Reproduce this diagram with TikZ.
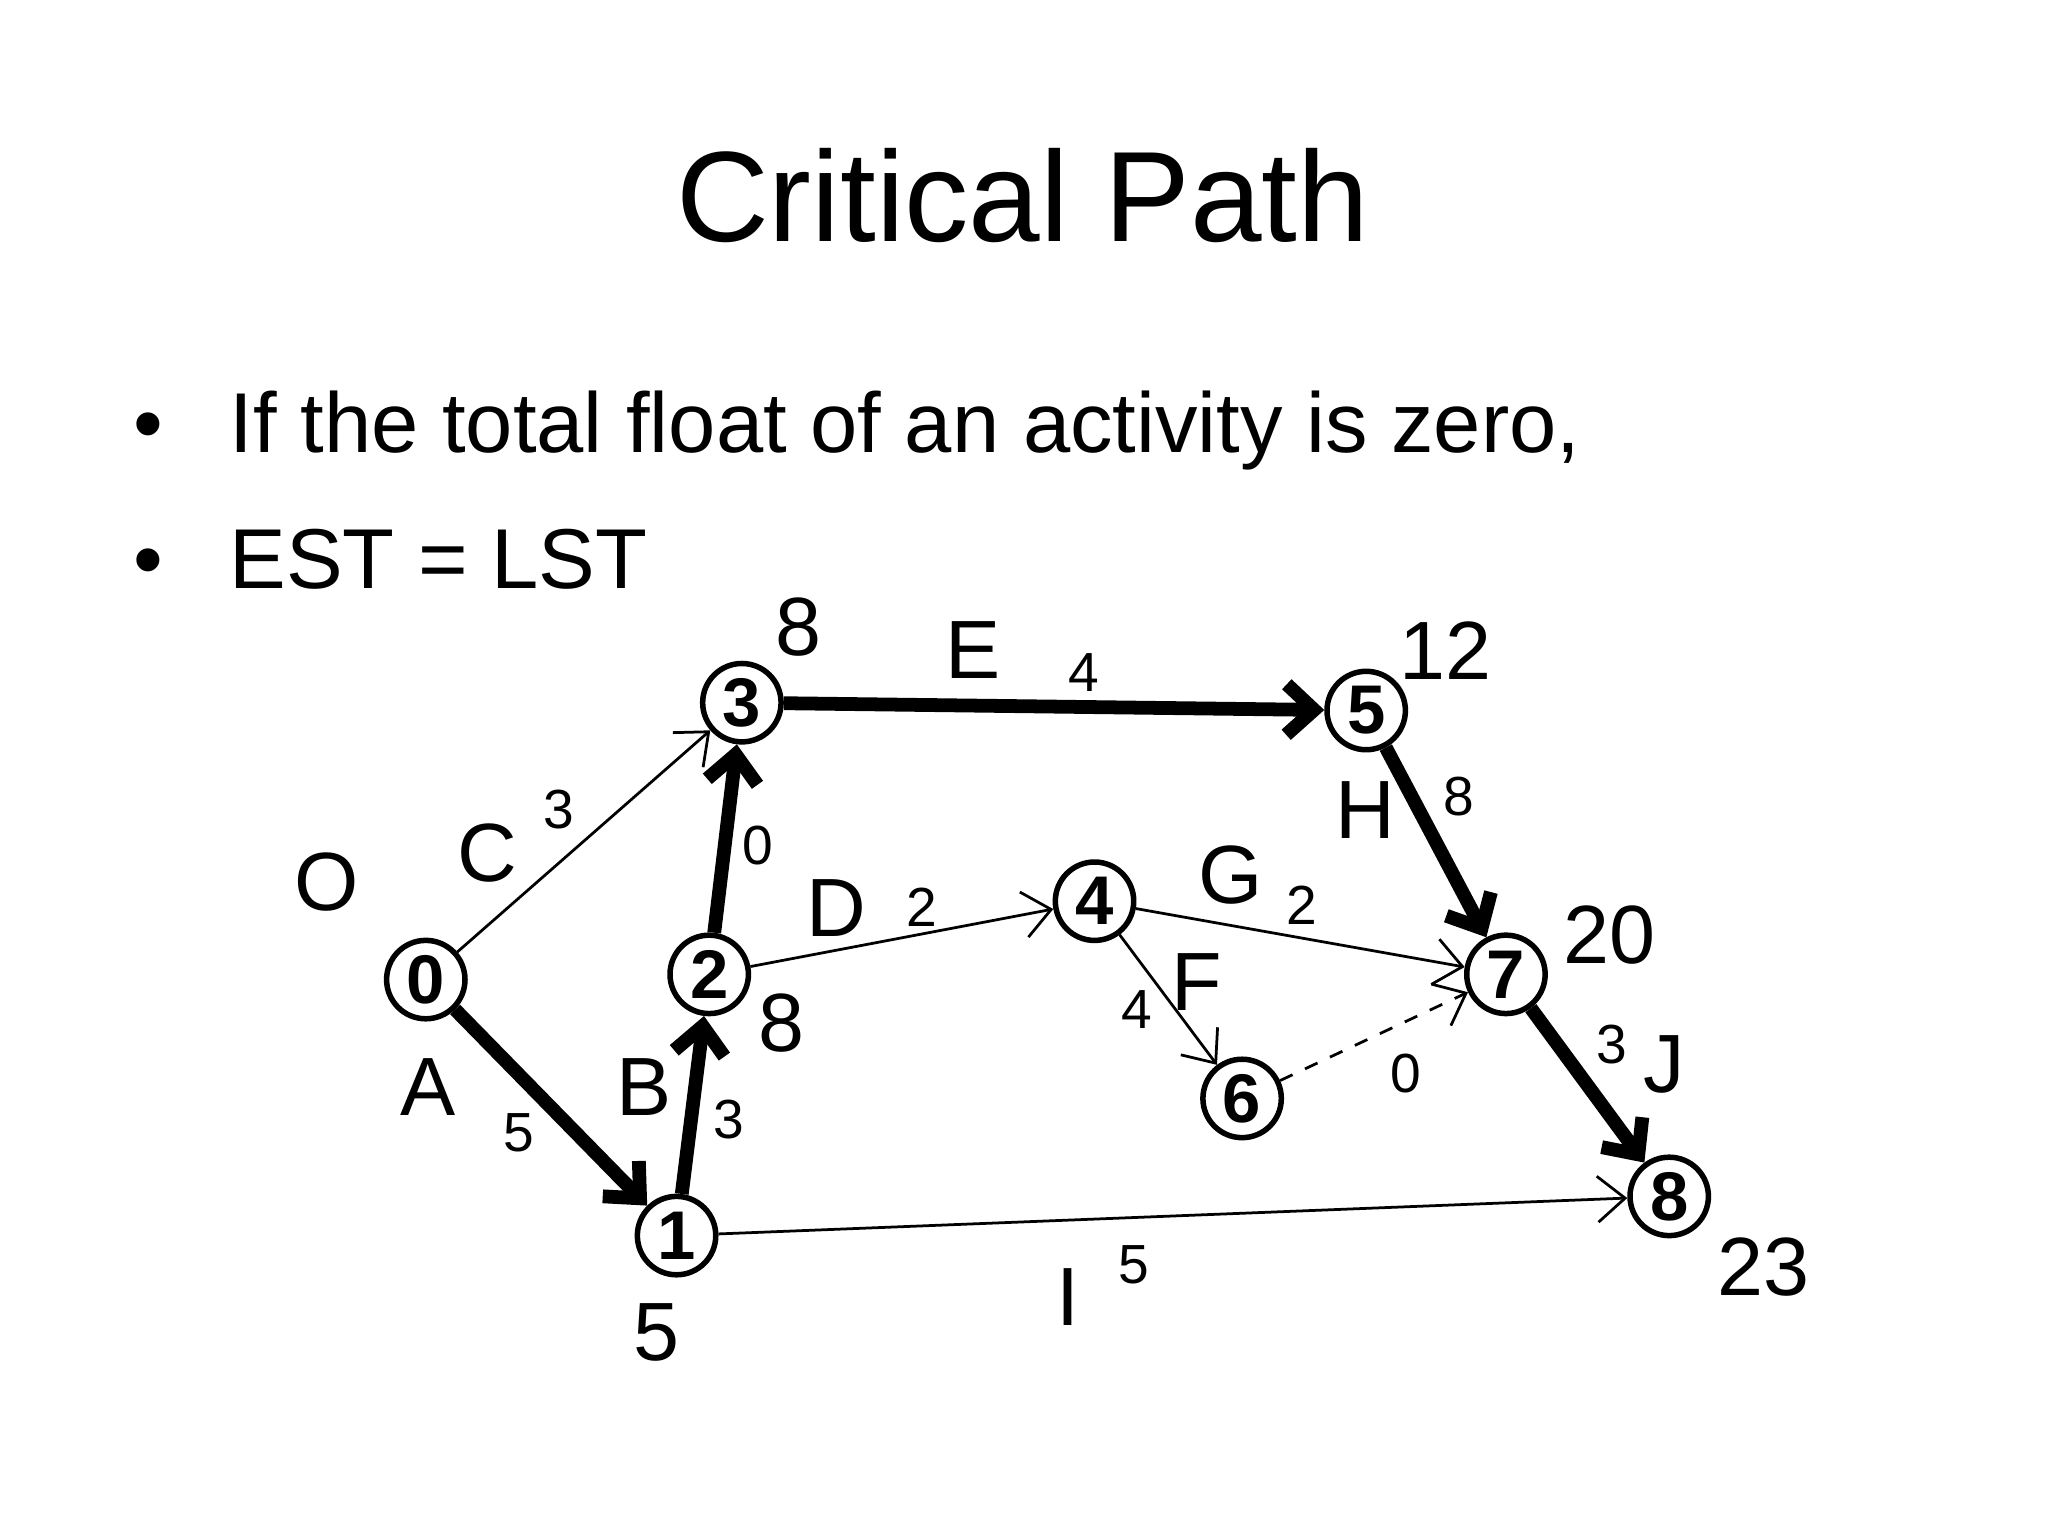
\documentclass[tikz,border=0pt]{standalone}
\usepackage{fontspec}
\setmainfont{Liberation Sans}
\usetikzlibrary{arrows.meta}
\begin{document}
\begin{tikzpicture}[x=0.01cm,y=-0.01cm,
  ev/.style={circle,draw,line width=1.2pt,minimum size=0.6cm,inner sep=0pt,font=\bfseries\fontsize{15}{15}\selectfont},
  crit/.style={line width=3pt,-{Straight Barb[length=6pt,width=11pt,line width=3pt]}},
  thin/.style={line width=0.6pt,-{Straight Barb[length=6pt,width=10pt]}},
  lab/.style={font=\fontsize{18}{18}\selectfont},
  sm/.style={font=\fontsize{12}{12}\selectfont}]
\useasboundingbox (0,0) rectangle (1568,1176);
\node[font=\fontsize{28}{28}\selectfont] (title) at (783,150) {Critical Path};
\node[anchor=west,font=\fontsize{18.5}{18.5}\selectfont] (b1) at (90,330) {\textbullet\hspace{0.5em} If the total float of an activity is zero,};
\node[anchor=west,font=\fontsize{18.5}{18.5}\selectfont] (b2) at (90,428) {\textbullet\hspace{0.5em} EST = LST};
\node[ev] (n0) at (326,750) {0};
\node[ev] (n1) at (518,946) {1};
\node[ev] (n2) at (543,746) {2};
\node[ev] (n3) at (568,538) {3};
\node[ev] (n4) at (838,690) {4};
\node[ev] (n5) at (1046,544) {5};
\node[ev] (n6) at (951,841) {6};
\node[ev] (n7) at (1153,746) {7};
\node[ev] (n8) at (1278,916) {8};
\draw[crit] (n0) -- (n1);
\draw[crit] (n1) -- (n2);
\draw[crit] (n2) -- (n3);
\draw[crit] (n3) -- (n5);
\draw[crit] (n5) -- (n7);
\draw[crit] (n7) -- (n8);
\draw[thin] (n0) -- (n3);
\draw[thin] (n2) -- (n4);
\draw[thin] (n4) -- (n7);
\draw[thin] (n4) -- (n6);
\draw[thin,dashed] (n6) -- (n7);
\draw[thin] (n1) -- (n8);
\node[lab] (l1) at (611,480) {8};
\node[lab] (l2) at (745,498) {E};
\node[sm] (l3) at (830,515) {4};
\node[lab] (l4) at (1107,498) {12};
\node[lab] (l5) at (1045,620) {H};
\node[sm] (l6) at (1117,610) {8};
\node[lab] (l7) at (1232,716) {20};
\node[lab] (l8) at (942,670) {G};
\node[sm] (l9) at (997,693) {2};
\node[lab] (l10) at (640,695) {D};
\node[sm] (l11) at (706,695) {2};
\node[sm] (l12) at (580,647) {0};
\node[lab] (l13) at (373,653) {C};
\node[sm] (l14) at (428,620) {3};
\node[lab] (l15) at (250,675) {O};
\node[lab] (l16) at (328,832) {A};
\node[sm] (l17) at (397,867) {5};
\node[lab] (l18) at (493,832) {B};
\node[sm] (l19) at (558,857) {3};
\node[lab] (l20) at (598,783) {8};
\node[lab] (l21) at (916,752) {F};
\node[sm] (l22) at (870,773) {4};
\node[sm] (l23) at (1076,822) {0};
\node[sm] (l24) at (1234,800) {3};
\node[lab] (l25) at (1274,815) {J};
\node[lab] (l26) at (1350,970) {23};
\node[lab] (l27) at (818,993) {I};
\node[sm] (l28) at (868,968) {5};
\node[lab] (l29) at (503,1020) {5};
\end{tikzpicture}
\end{document}
